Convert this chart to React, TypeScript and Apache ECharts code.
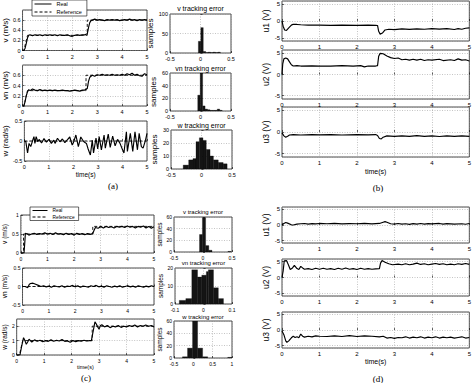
import React, { useEffect, useRef } from "react";
import * as echarts from "echarts";

type Pt = [number, number];
type Bin = [number, number, number];

// ---------------- (a) tracking, time series ----------------
const vRealA: Pt[] = [[0,0],[0.05,0],[0.1,0.04],[0.15,0.14],[0.2,0.25],[0.25,0.3],[0.3,0.31],[0.4,0.29],[0.5,0.31],[0.6,0.3],[0.7,0.31],[0.8,0.29],[0.9,0.31],[1.0,0.3],[1.1,0.31],[1.2,0.3],[1.3,0.31],[1.4,0.29],[1.5,0.31],[1.6,0.3],[1.7,0.3],[1.8,0.31],[1.9,0.29],[2.0,0.28],[2.1,0.3],[2.2,0.31],[2.3,0.3],[2.4,0.31],[2.5,0.31],[2.6,0.33],[2.65,0.45],[2.7,0.55],[2.75,0.59],[2.8,0.6],[2.9,0.62],[3.0,0.6],[3.1,0.61],[3.2,0.6],[3.3,0.59],[3.4,0.61],[3.5,0.6],[3.6,0.61],[3.7,0.6],[3.8,0.61],[3.9,0.59],[4.0,0.6],[4.1,0.61],[4.2,0.6],[4.3,0.62],[4.4,0.6],[4.5,0.61],[4.6,0.59],[4.7,0.61],[4.8,0.6],[4.9,0.61],[5.0,0.6]];
const vRefA: Pt[] = [[0,0],[0.05,0],[0.2,0.3],[2.6,0.3],[2.6,0.6],[5,0.6]];
const vnRealA: Pt[] = [[0,0],[0.05,0],[0.1,0.08],[0.15,0.2],[0.2,0.28],[0.25,0.32],[0.3,0.3],[0.4,0.33],[0.5,0.31],[0.6,0.3],[0.7,0.32],[0.8,0.3],[0.9,0.31],[1.0,0.3],[1.1,0.31],[1.2,0.3],[1.3,0.31],[1.4,0.3],[1.5,0.3],[1.6,0.31],[1.7,0.3],[1.8,0.3],[1.9,0.29],[2.0,0.3],[2.1,0.31],[2.2,0.3],[2.3,0.29],[2.4,0.31],[2.5,0.31],[2.6,0.34],[2.65,0.48],[2.7,0.56],[2.75,0.58],[2.8,0.6],[2.9,0.58],[3.0,0.61],[3.1,0.6],[3.2,0.62],[3.3,0.6],[3.4,0.61],[3.5,0.6],[3.6,0.62],[3.7,0.6],[3.8,0.61],[3.9,0.6],[4.0,0.62],[4.1,0.6],[4.2,0.63],[4.3,0.61],[4.4,0.64],[4.5,0.6],[4.6,0.62],[4.7,0.59],[4.8,0.58],[4.9,0.63],[5.0,0.61]];
const vnRefA: Pt[] = [[0,0],[0.05,0],[0.2,0.3],[2.55,0.3],[2.55,0.6],[5,0.6]];
const wRealA: Pt[] = [[0,0],[0.06,-0.02],[0.13,-0.3],[0.19,-0.06],[0.26,-0.14],[0.32,-0.02],[0.39,0.11],[0.43,-0.06],[0.48,0.11],[0.55,-0.02],[0.6,0.04],[0.7,-0.05],[0.8,0.06],[0.9,-0.03],[1.0,0.04],[1.1,-0.06],[1.2,0.02],[1.25,-0.06],[1.35,0.07],[1.45,-0.02],[1.55,0.05],[1.65,-0.04],[1.75,0.03],[1.85,0.1],[1.95,-0.1],[2.0,-0.04],[2.1,0.15],[2.2,-0.14],[2.3,0.1],[2.4,0.0],[2.47,-0.04],[2.53,-0.06],[2.6,-0.2],[2.69,-0.35],[2.77,0.02],[2.82,-0.3],[2.92,0.07],[2.99,-0.2],[3.05,0.11],[3.14,-0.22],[3.25,0.15],[3.3,-0.18],[3.42,0.17],[3.5,-0.16],[3.6,0.12],[3.7,-0.12],[3.8,0.04],[3.9,-0.06],[3.99,-0.2],[4.06,-0.3],[4.16,0.23],[4.2,-0.26],[4.32,0.19],[4.42,-0.26],[4.51,0.23],[4.61,-0.22],[4.68,0.19],[4.77,-0.14],[4.84,-0.18],[4.94,0.02],[5.0,0.19]];
const wRefA: Pt[] = [[0,0],[5,0]];

// ---------------- (a) tracking error histograms: [from, to, samples] ----------------
const histVA: Bin[] = [[-0.035,0.005,30],[0.005,0.045,65],[0.045,0.085,4],[0.085,0.125,1],[0.125,0.165,2],[0.165,0.205,1],[0.205,0.245,2],[0.245,0.285,1],[0.285,0.325,2]];
const histVnA: Bin[] = [[-0.045,-0.005,25],[-0.005,0.035,60],[0.035,0.075,8],[0.075,0.115,3],[0.115,0.155,2],[0.155,0.195,1],[0.195,0.235,1],[0.235,0.275,1],[0.275,0.315,3],[0.315,0.355,1]];
const histWA: Bin[] = [[-0.3,-0.21,3],[-0.21,-0.14,7],[-0.14,-0.09,8],[-0.09,-0.035,21],[-0.035,0.024,24],[0.024,0.078,22],[0.078,0.14,15],[0.14,0.195,10],[0.195,0.275,7],[0.275,0.355,5],[0.355,0.42,4]];

// ---------------- (b) control voltages ----------------
const u1B: Pt[] = [[0,0],[0.03,-1.5],[0.07,-2.6],[0.12,-2.7],[0.18,-2.0],[0.25,-1.2],[0.3,-0.95],[0.4,-1.0],[0.5,-1.1],[0.7,-1.2],[1.0,-1.2],[1.3,-1.25],[1.6,-1.2],[2.0,-1.25],[2.3,-1.2],[2.5,-1.25],[2.55,-1.3],[2.58,-3.0],[2.62,-3.8],[2.68,-3.5],[2.75,-2.6],[2.85,-2.4],[3.0,-2.5],[3.2,-2.3],[3.4,-2.45],[3.6,-2.3],[3.8,-2.4],[4.0,-2.2],[4.2,-2.35],[4.4,-2.2],[4.6,-2.45],[4.7,-2.2],[4.8,-2.4],[4.9,-2.1],[5.0,-2.0]];
const u2B: Pt[] = [[0,0],[0.02,2.5],[0.05,3.7],[0.1,3.9],[0.15,3.7],[0.2,3.0],[0.25,2.3],[0.3,2.0],[0.4,2.1],[0.5,2.0],[0.8,2.05],[1.0,2.0],[1.3,2.0],[1.6,2.1],[1.9,2.0],[2.1,2.1],[2.2,1.8],[2.3,2.0],[2.5,2.0],[2.55,2.1],[2.58,4.3],[2.62,5.0],[2.7,4.9],[2.8,4.4],[2.9,4.0],[3.0,3.8],[3.1,3.9],[3.2,3.5],[3.3,3.6],[3.4,3.4],[3.5,3.6],[3.6,3.4],[3.7,3.6],[3.8,3.3],[3.9,3.5],[4.0,3.4],[4.2,3.6],[4.3,3.3],[4.5,3.5],[4.6,3.3],[4.7,3.7],[4.8,3.4],[4.9,3.5],[5.0,3.2]];
const u3B: Pt[] = [[0,-0.2],[0.05,-0.9],[0.1,-1.2],[0.15,-1.0],[0.2,-0.7],[0.3,-0.6],[0.5,-0.7],[0.8,-0.6],[1.0,-0.65],[1.3,-0.6],[1.6,-0.7],[2.0,-0.6],[2.3,-0.65],[2.5,-0.6],[2.55,-0.8],[2.6,-1.5],[2.65,-1.6],[2.7,-1.2],[2.8,-0.9],[3.0,-1.0],[3.2,-0.9],[3.4,-1.0],[3.6,-0.85],[3.8,-1.0],[4.0,-0.9],[4.2,-1.05],[4.4,-0.9],[4.6,-1.0],[4.8,-0.9],[5.0,-1.0]];

// ---------------- (c) tracking, time series ----------------
const vRealC: Pt[] = [[0,0],[0.12,0],[0.15,0.3],[0.17,0.52],[0.25,0.5],[0.3,0.47],[0.4,0.5],[0.5,0.52],[0.6,0.49],[0.7,0.51],[0.8,0.5],[0.9,0.53],[1.0,0.5],[1.1,0.52],[1.2,0.49],[1.3,0.53],[1.4,0.5],[1.5,0.51],[1.6,0.48],[1.7,0.52],[1.8,0.49],[1.9,0.51],[2.0,0.47],[2.1,0.52],[2.2,0.49],[2.3,0.51],[2.4,0.48],[2.5,0.51],[2.6,0.49],[2.7,0.51],[2.75,0.6],[2.8,0.67],[2.9,0.65],[3.0,0.69],[3.1,0.66],[3.2,0.7],[3.3,0.67],[3.4,0.69],[3.5,0.66],[3.6,0.7],[3.7,0.68],[3.8,0.7],[3.9,0.67],[4.0,0.71],[4.1,0.68],[4.2,0.7],[4.3,0.66],[4.4,0.7],[4.5,0.68],[4.6,0.71],[4.7,0.66],[4.8,0.7],[4.9,0.65],[5.0,0.69]];
const vRefC: Pt[] = [[0,0],[0.1,0],[0.1,0.5],[2.7,0.5],[2.7,0.7],[5,0.7]];
const vnRealC: Pt[] = [[0,0],[0.1,0],[0.2,-0.03],[0.25,0.05],[0.3,0.08],[0.4,0.09],[0.5,0.06],[0.6,0.03],[0.7,0.0],[0.8,0.02],[0.9,-0.01],[1.0,0.01],[1.1,-0.02],[1.2,0.02],[1.3,0.0],[1.4,-0.01],[1.5,0.02],[1.6,-0.02],[1.7,0.01],[1.8,0.0],[1.9,0.03],[2.0,-0.01],[2.1,0.02],[2.2,-0.02],[2.3,0.01],[2.4,0.0],[2.5,-0.02],[2.6,0.02],[2.7,0.0],[2.8,0.03],[2.9,-0.01],[3.0,0.01],[3.1,-0.02],[3.2,0.02],[3.3,0.0],[3.4,-0.02],[3.5,0.01],[3.6,-0.01],[3.7,0.02],[3.8,-0.02],[3.9,0.0],[4.0,0.02],[4.1,-0.01],[4.2,0.01],[4.3,-0.02],[4.4,0.02],[4.5,0.0],[4.6,-0.02],[4.7,0.01],[4.8,-0.01],[4.9,0.02],[5.0,0.0]];
const vnRefC: Pt[] = [[0,0],[5,0]];
const wRealC: Pt[] = [[0,0],[0.12,0],[0.18,0.6],[0.25,1.2],[0.3,1.0],[0.35,0.75],[0.4,0.9],[0.45,1.1],[0.55,0.9],[0.65,1.05],[0.75,0.95],[0.85,1.02],[0.95,0.92],[1.05,1.0],[1.15,0.95],[1.25,1.05],[1.35,0.95],[1.45,1.02],[1.55,0.97],[1.65,1.08],[1.75,0.95],[1.85,0.98],[1.95,0.88],[2.05,1.0],[2.15,0.93],[2.25,1.0],[2.35,0.96],[2.45,1.02],[2.55,0.97],[2.65,1.0],[2.72,1.0],[2.78,1.6],[2.85,2.3],[2.9,2.15],[2.95,1.95],[3.0,1.8],[3.05,2.05],[3.1,2.1],[3.2,1.95],[3.3,2.05],[3.4,1.9],[3.5,2.0],[3.6,1.95],[3.7,2.05],[3.8,1.92],[3.9,2.0],[4.0,1.95],[4.1,2.05],[4.2,1.98],[4.3,2.08],[4.4,1.95],[4.5,2.05],[4.6,2.0],[4.7,2.08],[4.8,2.0],[4.9,2.05],[5.0,1.95]];
const wRefC: Pt[] = [[0,0],[0.1,0],[0.22,1],[2.75,1],[2.75,2],[5,2]];

// ---------------- (c) tracking error histograms ----------------
const histVC: Bin[] = [[-0.06,-0.01,30],[-0.01,0.045,59],[0.045,0.1,11],[0.1,0.155,3],[0.43,0.48,1]];
const histVnC: Bin[] = [[-0.085,-0.062,2],[-0.062,-0.041,3],[-0.041,-0.021,19],[-0.021,-0.006,15],[-0.006,0.01,16],[0.01,0.017,18],[0.017,0.035,19],[0.035,0.052,9],[0.052,0.07,3]];
const histWC: Bin[] = [[-0.28,-0.15,2],[-0.15,-0.02,16],[-0.02,0.11,60],[0.11,0.24,16],[0.24,0.37,2],[0.89,1.0,1]];

// ---------------- (d) control voltages ----------------
const u1D: Pt[] = [[0,0],[0.05,0.5],[0.1,0.8],[0.15,0.6],[0.25,0.05],[0.3,0.0],[0.4,0.3],[0.5,0.4],[0.6,0.5],[0.7,0.3],[0.8,0.45],[0.9,0.35],[1.0,0.5],[1.2,0.4],[1.4,0.5],[1.6,0.35],[1.8,0.45],[2.0,0.4],[2.2,0.5],[2.4,0.35],[2.6,0.5],[2.7,0.9],[2.75,1.1],[2.8,0.9],[2.9,0.4],[3.0,0.3],[3.1,0.5],[3.2,0.3],[3.3,0.4],[3.4,0.2],[3.5,0.45],[3.6,0.3],[3.7,0.5],[3.8,0.3],[3.9,0.45],[4.0,0.35],[4.2,0.5],[4.3,0.3],[4.4,0.45],[4.6,0.3],[4.8,0.4],[4.9,0.25],[5.0,0.5]];
const u2D: Pt[] = [[0,0],[0.03,2.0],[0.06,5.2],[0.12,5.3],[0.17,4.0],[0.22,2.5],[0.28,3.0],[0.33,3.8],[0.4,2.8],[0.45,2.5],[0.5,3.5],[0.55,3.0],[0.6,2.6],[0.7,2.8],[0.8,2.5],[0.9,2.9],[1.0,2.6],[1.1,2.9],[1.2,2.6],[1.3,2.8],[1.4,2.5],[1.5,2.9],[1.6,2.6],[1.7,3.0],[1.8,2.6],[1.9,2.8],[2.0,2.5],[2.1,2.9],[2.2,2.6],[2.3,2.8],[2.4,2.6],[2.5,2.7],[2.6,2.8],[2.63,4.5],[2.67,5.3],[2.75,4.8],[2.85,4.3],[2.95,4.0],[3.1,4.2],[3.2,4.0],[3.3,4.3],[3.4,4.0],[3.5,4.2],[3.6,4.5],[3.7,4.1],[3.8,4.3],[3.9,4.0],[4.0,4.2],[4.1,4.4],[4.2,4.1],[4.3,4.3],[4.4,4.0],[4.5,4.2],[4.6,4.0],[4.7,4.3],[4.8,4.1],[4.9,4.4],[5.0,4.1]];
const u3D: Pt[] = [[0,-0.3],[0.05,-1.5],[0.1,-3.5],[0.13,-4.0],[0.18,-3.5],[0.25,-2.5],[0.3,-2.0],[0.35,-2.4],[0.4,-2.2],[0.45,-2.5],[0.5,-1.3],[0.55,-2.0],[0.6,-2.3],[0.7,-2.0],[0.8,-2.2],[0.9,-1.9],[1.0,-2.0],[1.2,-2.1],[1.4,-1.9],[1.6,-2.1],[1.8,-1.8],[2.0,-2.1],[2.2,-1.9],[2.4,-2.0],[2.6,-2.2],[2.7,-2.0],[2.8,-2.6],[2.9,-2.4],[3.0,-2.7],[3.1,-2.4],[3.2,-2.5],[3.3,-2.2],[3.4,-2.6],[3.5,-2.3],[3.6,-2.5],[3.7,-2.2],[3.8,-2.6],[3.9,-2.3],[4.0,-2.5],[4.1,-2.2],[4.2,-2.6],[4.3,-2.3],[4.4,-2.5],[4.5,-2.3],[4.6,-2.6],[4.7,-2.4],[4.8,-2.2],[4.9,-2.6],[5.0,-2.4]];

const legendNames = ["Real", "Reference"];
const captions = ["(a)", "(b)", "(c)", "(d)"];

const SANS = "'Liberation Sans', Arial, Helvetica, sans-serif";
const SERIF = "'Liberation Serif', 'Times New Roman', serif";

type Box = { left: number; top: number; width: number; height: number };
interface LinePlot {
  box: Box; yMin: number; yMax: number; yStep: number; nice?: boolean; hideMax?: boolean;
  yName: string; nameGap: number; nameSize: number; tick: number;
  real: Pt[]; ref?: Pt[]; xName?: string; xNameGap?: number; xNameSize?: number;
}
interface HistPlot {
  box: Box; xMin: number; xMax: number; xStep: number; yMax: number; yStep: number;
  bins: Bin[]; title: string; titleY: number; nameGap: number; nameSize: number; tick: number;
}

const U = { yMin: -5.8, yMax: 5.8, yStep: 5, nice: true };

const linePlots: LinePlot[] = [
  { box: { left: 18, top: 10, width: 129, height: 40.5 }, yMin: 0, yMax: 0.8, yStep: 0.2, hideMax: true, yName: "v (m/s)", nameGap: 8, nameSize: 8, tick: 5.5, real: vRealA, ref: vRefA },
  { box: { left: 18, top: 65, width: 129, height: 41 }, yMin: 0, yMax: 0.8, yStep: 0.2, hideMax: true, yName: "vn (m/s)", nameGap: 8, nameSize: 8, tick: 5.5, real: vnRealA, ref: vnRefA },
  { box: { left: 18, top: 121, width: 129, height: 40 }, yMin: -0.5, yMax: 0.5, yStep: 0.5, yName: "w (rad/s)", nameGap: 8, nameSize: 8, tick: 5.5, real: wRealA, ref: wRefA, xName: "time(s)", xNameGap: 8, xNameSize: 6.5 },
  { box: { left: 282, top: 1, width: 191, height: 40 }, ...U, yName: "u1 (V)", nameGap: 11, nameSize: 8.5, tick: 6, real: u1B },
  { box: { left: 282, top: 50, width: 191, height: 49 }, ...U, yName: "u2 (V)", nameGap: 11, nameSize: 8.5, tick: 6, real: u2B },
  { box: { left: 282, top: 107, width: 191, height: 50 }, ...U, yName: "u3 (V)", nameGap: 11, nameSize: 8.5, tick: 6, real: u3B, xName: "time(s)", xNameGap: 11, xNameSize: 7 },
  { box: { left: 16, top: 215, width: 138, height: 38 }, yMin: 0, yMax: 1, yStep: 0.5, yName: "v (m/s)", nameGap: 7, nameSize: 6.5, tick: 5, real: vRealC, ref: vRefC },
  { box: { left: 16, top: 268, width: 138, height: 37 }, yMin: -0.5, yMax: 0.5, yStep: 0.5, yName: "vn (m/s)", nameGap: 7, nameSize: 6.5, tick: 5, real: vnRealC, ref: vnRefC },
  { box: { left: 16, top: 319, width: 138, height: 36 }, yMin: 0, yMax: 2.5, yStep: 1, hideMax: true, yName: "w (rad/s)", nameGap: 7, nameSize: 6.5, tick: 5, real: wRealC, ref: wRefC, xName: "time(s)", xNameGap: 6.5, xNameSize: 5.5 },
  { box: { left: 282, top: 207, width: 191, height: 36 }, ...U, yName: "u1 (V)", nameGap: 11, nameSize: 8.5, tick: 6, real: u1D },
  { box: { left: 282, top: 259, width: 191, height: 37 }, ...U, yName: "u2 (V)", nameGap: 11, nameSize: 8.5, tick: 6, real: u2D },
  { box: { left: 282, top: 312, width: 191, height: 36 }, ...U, yName: "u3 (V)", nameGap: 11, nameSize: 8.5, tick: 6, real: u3D, xName: "time(s)", xNameGap: 10, xNameSize: 7 },
];

const histPlots: HistPlot[] = [
  { box: { left: 170, top: 14, width: 61, height: 39 }, xMin: -0.5, xMax: 0.5, xStep: 0.5, yMax: 100, yStep: 50, bins: histVA, title: "v tracking error", titleY: 8, nameGap: 10, nameSize: 8, tick: 5.5 },
  { box: { left: 170, top: 73, width: 61, height: 38 }, xMin: -0.5, xMax: 0.5, xStep: 0.5, yMax: 60, yStep: 20, bins: histVnA, title: "vn tracking error", titleY: 68, nameGap: 10, nameSize: 8, tick: 5.5 },
  { box: { left: 171, top: 130, width: 61, height: 39 }, xMin: -0.5, xMax: 0.5, xStep: 0.5, yMax: 30, yStep: 10, bins: histWA, title: "w tracking error", titleY: 125, nameGap: 10, nameSize: 8, tick: 5.5 },
  { box: { left: 174, top: 217, width: 58, height: 35 }, xMin: -0.5, xMax: 0.5, xStep: 0.5, yMax: 60, yStep: 20, bins: histVC, title: "v tracking error", titleY: 211.5, nameGap: 8, nameSize: 6.5, tick: 5 },
  { box: { left: 175, top: 268, width: 57, height: 36 }, xMin: -0.1, xMax: 0.1, xStep: 0.1, yMax: 20, yStep: 10, bins: histVnC, title: "vn tracking error", titleY: 262.5, nameGap: 8, nameSize: 6.5, tick: 5 },
  { box: { left: 174, top: 321, width: 58, height: 37 }, xMin: -0.5, xMax: 1, xStep: 0.5, yMax: 60, yStep: 20, bins: histWC, title: "w tracking error", titleY: 316.5, nameGap: 8, nameSize: 6.5, tick: 5 },
];

const captionPos: [number, number][] = [[113, 186], [378, 188], [86, 378], [378, 379]];

function buildOption() {
  const grid: any[] = [];
  const xAxis: any[] = [];
  const yAxis: any[] = [];
  const series: any[] = [];
  const graphic: any[] = [];

  const split = { show: true, lineStyle: { type: [1, 1.5], color: "#8a8a8a", width: 0.5 } };
  const tickStyle = { show: true, inside: true, length: 2, lineStyle: { color: "#000", width: 0.6 } };

  linePlots.forEach((p, i) => {
    grid.push({ ...p.box, show: true, borderColor: "#000", borderWidth: 0.7, backgroundColor: "#fff", containLabel: false });
    xAxis.push({
      type: "value", gridIndex: i, min: 0, max: 5, interval: 1,
      axisLine: { show: false }, axisTick: tickStyle, splitLine: split,
      axisLabel: { fontSize: p.tick, margin: 3, color: "#000", fontFamily: SANS },
      name: p.xName, nameLocation: "middle", nameGap: p.xNameGap,
      nameTextStyle: { fontSize: p.xNameSize, color: "#000", fontFamily: SANS },
    });
    const yBase: any = {
      type: "value", gridIndex: i, min: p.yMin, max: p.yMax,
      axisLine: { show: false }, axisTick: tickStyle, splitLine: split,
      axisLabel: { fontSize: p.tick, margin: 2, color: "#000", fontFamily: SANS, showMaxLabel: p.nice || p.hideMax ? false : true, showMinLabel: p.nice ? false : true },
      name: p.yName, nameLocation: "middle", nameGap: p.nameGap, nameRotate: 90,
      nameTextStyle: { fontSize: p.nameSize, color: "#000", fontFamily: SANS },
    };
    if (p.nice) { yBase.minInterval = p.yStep; yBase.maxInterval = p.yStep; yBase.splitNumber = 2; }
    else yBase.interval = p.yStep;
    yAxis.push(yBase);
    if (p.ref) {
      series.push({ type: "line", name: "Reference", xAxisIndex: i, yAxisIndex: i, data: p.ref, symbol: "none", showSymbol: false, itemStyle: { color: "#000" }, lineStyle: { color: "#000", width: 0.9, type: [3, 2] }, z: 2 });
    }
    series.push({ type: "line", name: p.ref ? "Real" : p.yName, xAxisIndex: i, yAxisIndex: i, data: p.real, symbol: "none", showSymbol: false, itemStyle: { color: "#000" }, lineStyle: { color: "#000", width: 1.15 }, z: 3 });
  });

  histPlots.forEach((h, j) => {
    const i = linePlots.length + j;
    grid.push({ ...h.box, show: true, borderColor: "#000", borderWidth: 0.7, backgroundColor: "#fff" });
    xAxis.push({
      type: "value", gridIndex: i, min: h.xMin, max: h.xMax, interval: h.xStep,
      axisLine: { show: false }, axisTick: tickStyle, splitLine: split,
      axisLabel: { fontSize: h.tick, margin: 3, color: "#000", fontFamily: SANS },
    });
    yAxis.push({
      type: "value", gridIndex: i, min: 0, max: h.yMax, interval: h.yStep,
      axisLine: { show: false }, axisTick: tickStyle, splitLine: split,
      axisLabel: { fontSize: h.tick, margin: 2, color: "#000", fontFamily: SANS },
      name: "samples", nameLocation: "middle", nameGap: h.nameGap, nameRotate: 90,
      nameTextStyle: { fontSize: h.nameSize, color: "#000", fontFamily: SANS },
    });
    series.push({
      type: "custom", name: h.title, xAxisIndex: i, yAxisIndex: i, data: h.bins, clip: true,
      encode: { x: [0, 1], y: 2 },
      renderItem: (params: any, api: any) => {
        const a = api.coord([api.value(0), api.value(2)]);
        const b = api.coord([api.value(1), 0]);
        return { type: "rect", shape: { x: a[0], y: a[1], width: b[0] - a[0], height: b[1] - a[1] }, style: { fill: "#141414", stroke: "#000", lineWidth: 0.3 } };
      },
      z: 3,
    });
    graphic.push({
      type: "text", x: h.box.left + h.box.width / 2, y: h.titleY,
      style: { text: h.title, fontSize: j < 3 ? 7 : 6, fontFamily: SANS, fill: "#000", align: "center", verticalAlign: "middle" },
    });
  });

  captions.forEach((c, k) => {
    graphic.push({
      type: "text", x: captionPos[k][0], y: captionPos[k][1],
      style: { text: c, fontSize: 9, fontFamily: SERIF, fill: "#000", align: "center", verticalAlign: "middle" },
    });
  });

  const legendCommon = {
    data: legendNames, orient: "vertical", selectedMode: false,
    borderColor: "#000", borderWidth: 0.6, backgroundColor: "#fff",
    itemStyle: { color: "#000", opacity: 0, borderWidth: 0 },
    lineStyle: { color: "#000", width: 1 },
    textStyle: { color: "#000", fontFamily: SANS },
  };
  const legend = [
    { ...legendCommon, left: 32, top: 0, itemWidth: 17, itemHeight: 5, itemGap: 2, padding: [1, 5, 1, 2], textStyle: { ...legendCommon.textStyle, fontSize: 5.5 } },
    { ...legendCommon, left: 30, top: 207, itemWidth: 15, itemHeight: 5, itemGap: 1.5, padding: [1, 4, 1, 2], textStyle: { ...legendCommon.textStyle, fontSize: 4.8 } },
  ];

  return { animation: false, backgroundColor: "#fff", grid, xAxis, yAxis, series, legend, graphic };
}

export default function App() {
  const ref = useRef<HTMLDivElement>(null);
  useEffect(() => {
    document.body.style.margin = "0";
    if (!ref.current) return;
    const chart = echarts.init(ref.current, undefined, { renderer: "svg" });
    chart.setOption(buildOption() as any);
    return () => chart.dispose();
  }, []);
  return <div ref={ref} style={{ position: "absolute", left: 0, top: 0, width: 474, height: 383 }} />;
}
